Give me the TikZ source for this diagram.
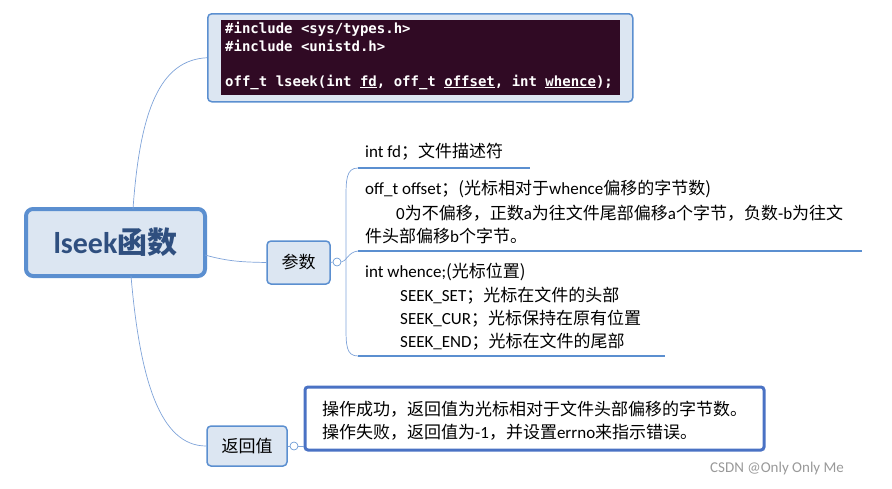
\documentclass[tikz,border=0pt]{standalone}
\usepackage{fontspec}
\setmainfont{Carlito}
\newfontfamily\cjk{Noto Sans CJK SC}
\newfontfamily\cmono{DejaVu Sans Mono}
\definecolor{lb}{HTML}{DCE6F2}
\definecolor{bd}{HTML}{5B8FD0}
\definecolor{dk}{HTML}{4A72C4}
\definecolor{tx}{HTML}{2F4F7F}
\definecolor{term}{HTML}{300A24}
\definecolor{ln}{HTML}{7FA3D9}
\begin{document}
\begin{tikzpicture}[x=1pt,y=-1pt,
  box/.style={draw=bd,fill=lb,rounded corners=4pt,line width=1.5pt,inner sep=0},
  conn/.style={draw=ln,line width=0.7pt},
  sep/.style={draw=bd,line width=2pt},
  txt/.style={anchor=west,inner sep=0,font=\fontsize{17}{19}\selectfont,text=black},
  knob/.style={circle,draw=bd,fill=white,minimum size=8pt,inner sep=0,line width=0.6pt}]
\useasboundingbox (0,0) rectangle (892,488);
% code box
\node[box,minimum width=425pt,minimum height=88pt,anchor=north west] (code) at (207,13) {};
\fill[term] (221,20) rectangle (620,95);
\node[anchor=north west,inner sep=0,text=white,font=\cmono\bfseries\fontsize{14}{17.5}\selectfont,align=left] (codetxt) at (225,22)
{\#include <sys/types.h>\\ \#include <unistd.h>\\[17.5pt] off\_t lseek(int \underline{fd}, off\_t \underline{offset}, int \underline{whence});};
% central
\node[box,line width=4pt,rounded corners=7pt,minimum width=179pt,minimum height=67pt] (main) at (115.5,242.5)
{\textcolor{tx}{\fontsize{30}{34}\selectfont\bfseries lseek{\cjk 函数}}};
% params
\node[box,minimum width=63pt,minimum height=43pt] (param) at (298.5,262.5) {\fontsize{17}{19}\selectfont\cjk 参数};
\node[knob] (k1) at (337,262) {};
\node[box,minimum width=80pt,minimum height=40pt] (ret) at (247,446) {\fontsize{17}{19}\selectfont\cjk 返回值};
\node[knob] (k2) at (294,446) {};
% connectors
\draw[conn] (133,209) .. controls (140,110) and (160,60) .. (code.west);
\draw[conn] (131,276) .. controls (140,380) and (160,446) .. (ret.west);
\draw[conn] (205,255) .. controls (230,262) and (245,262) .. (param.west);
\draw[conn] (param.east) -- (k1.west);
\draw[conn] (ret.east) -- (k2.west);
% bracket
\coordinate (b1) at (358,168);
\coordinate (b2) at (358,251);
\coordinate (b3) at (358,356);
\draw[conn] (k1.east) .. controls (346,262) and (348,252) .. (b2);
\draw[conn] (b1) .. controls (346,168) and (346,180) .. (346,200) -- (346,325) .. controls (346,345) and (346,356) .. (b3);
\draw[sep] (b1) -- (530,168);
\draw[sep] (b2) -- (862,251);
\draw[sep] (b3) -- (665,356);
% param texts
\node[txt] (t1) at (365,152) {int fd\cjk；文件描述符};
\node[txt] (t2) at (365,189) {off\_t offset{\cjk；(}{\cjk 光标相对于}whence{\cjk 偏移的字节数)}};
\node[txt] (t3) at (396,213) {0{\cjk 为不偏移，正数}a{\cjk 为往文件尾部偏移}a{\cjk 个字节，负数}-b{\cjk 为往文}};
\node[txt] (t4) at (365,236) {{\cjk 件头部偏移}b{\cjk 个字节。}};
\node[txt] (t5) at (365,272) {int whence;{\cjk (光标位置)}};
\node[txt] (t6) at (400,296) {SEEK\_SET{\cjk ；光标在文件的头部}};
\node[txt] (t7) at (400,319) {SEEK\_CUR{\cjk ；光标保持在原有位置}};
\node[txt] (t8) at (400,342) {SEEK\_END{\cjk ；光标在文件的尾部}};
% return box
\node[draw=dk,fill=white,line width=3pt,rounded corners=3pt,minimum width=459pt,minimum height=63pt] (rbox) at (534.5,418.5) {};
\draw[conn] (k2.east) -- (rbox.west |- k2);
\node[txt] (r1) at (322,409) {\cjk 操作成功，返回值为光标相对于文件头部偏移的字节数。};
\node[txt] (r2) at (322,432) {{\cjk 操作失败，返回值为}-1{\cjk ，并设置}errno{\cjk 来指示错误。}};
\node[anchor=west,inner sep=0,text=gray!80,font=\fontsize{15}{17}\selectfont] (wm) at (710,468) {CSDN @Only Only Me};
\end{tikzpicture}
\end{document}
